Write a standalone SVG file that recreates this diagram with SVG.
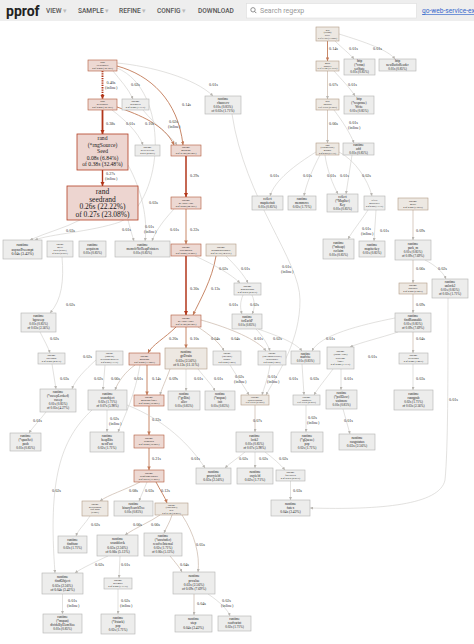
<svg xmlns="http://www.w3.org/2000/svg" width="474" height="644" viewBox="0 0 474 644">
<style>
.bg{fill:#ffffff}
.n rect{stroke-width:.6}
.g rect{fill:#ededec;stroke:#b2b2b1}
.b rect{fill:#ede8e2;stroke:#b29b86}
.p rect{fill:#edd9d3;stroke:#b2593a}
.h rect{fill:#edd5d0;stroke:#b23f23;stroke-width:.8}
.n text{font-family:"Liberation Serif",serif;fill:#1a1a1a;text-anchor:middle}
.e path{fill:none}
.e0{stroke:#cfcdca;stroke-width:.6;marker-end:url(#ag)}
.e1{stroke:#c8b6a8;stroke-width:.7;marker-end:url(#ag)}
.e2{stroke:#c27a58;stroke-width:.9;marker-end:url(#ab)}
.e3{stroke:#b2361a;marker-end:url(#ar)}
.l{font-family:"Liberation Serif",serif;font-size:4.2px;fill:#333}
.hd{font-family:Roboto,"Liberation Sans",sans-serif}
</style>
<defs>
<marker id="ag" viewBox="0 0 10 10" refX="10" refY="5" markerWidth="3" markerHeight="3" markerUnits="userSpaceOnUse" orient="auto"><path d="M0,0L10,5L0,10z" fill="#b8b5b0"/></marker>
<marker id="ab" viewBox="0 0 10 10" refX="10" refY="5" markerWidth="3.6" markerHeight="3.6" markerUnits="userSpaceOnUse" orient="auto"><path d="M0,0L10,5L0,10z" fill="#c27a58"/></marker>
<marker id="ar" viewBox="0 0 10 10" refX="10" refY="5" markerWidth="4.5" markerHeight="4.5" markerUnits="userSpaceOnUse" orient="auto"><path d="M0,0L10,5L0,10z" fill="#b2361a"/></marker>
</defs>
<rect class="bg" width="474" height="644"/>
<g id="header">
<rect x="0" y="0" width="474" height="21" fill="#eeeeee"/>
<text class="hd" x="6" y="15.5" font-size="14" font-weight="bold" fill="#222">pprof</text>
<g class="hd" font-size="6.6" fill="#555" font-weight="500">
<text x="46" y="13">VIEW <tspan fill="#bbb">▾</tspan></text>
<text x="78" y="13">SAMPLE <tspan fill="#bbb">▾</tspan></text>
<text x="119" y="13">REFINE <tspan fill="#bbb">▾</tspan></text>
<text x="157" y="13">CONFIG <tspan fill="#bbb">▾</tspan></text>
<text x="198" y="13">DOWNLOAD</text>
</g>
<rect x="246.5" y="3.5" width="170" height="14.5" fill="#ffffff" stroke="#dddddd" stroke-width=".6"/>
<circle cx="253" cy="9.8" r="2.2" fill="none" stroke="#777" stroke-width=".8"/>
<path d="M254.6,11.4L256.3,13.1" stroke="#777" stroke-width=".9"/>
<text class="hd" x="260" y="13" font-size="7" fill="#999">Search regexp</text>
<text class="hd" x="422" y="13" font-size="6.6" fill="#3366cc" text-decoration="underline">go-web-service-ex</text>
</g>
<g id="edges" class="e">
<path class="e3" d="M102.5,71L102.5,99" stroke-width="1.9" stroke-dasharray="1.3,1"/>
<path class="e3" d="M102.5,110L102.5,134" stroke-width="1.8"/>
<path class="e3" d="M102.5,170L102.5,186" stroke-width="1.4"/>
<path class="e0" d="M113,71C120,80 128,88 133,99"/>
<path class="e0" d="M117,63C150,66 195,78 213,96"/>
<path class="e2" d="M117,66C150,75 178,100 183,145"/>
<path class="e0" d="M143,110C155,125 170,135 177,145"/>
<path class="e0" d="M112,110C125,120 138,132 143,145"/>
<path class="e2" d="M117,107C140,115 165,125 174,145"/>
<path class="e3" d="M186,156L186,197" stroke-width="1.5"/>
<path class="e2" d="M186,209L186,244" stroke-width="1.2"/>
<path class="e0" d="M174,209C164,220 156,230 152,241"/>
<path class="e0" d="M128,220C130,228 132,235 134,241"/>
<path class="e0" d="M128,165C142,190 148,220 145,241"/>
<path class="e0" d="M117,68C170,90 165,200 120,222C90,232 50,234 35,240"/>
<path class="e0" d="M80,220C65,228 45,233 30,240"/>
<path class="e0" d="M62,257C64,280 62,300 50,313"/>
<path class="e0" d="M232,114C245,200 300,260 300,300C300,340 280,370 266,395"/>
<path class="e0" d="M316,152C295,165 275,180 270,196"/>
<path class="e0" d="M320,155C312,170 306,185 304,196"/>
<path class="e0" d="M325,155C327,170 333,185 338,194"/>
<path class="e0" d="M352,155L346,194"/>
<path class="e0" d="M339,152C355,160 368,180 372,196"/>
<path class="e0" d="M368,210C360,222 352,232 348,239"/>
<path class="e0" d="M376,210L374,241"/>
<path class="e1" d="M413,210L413,240"/>
<path class="e1" d="M413,260L413,283"/>
<path class="e0" d="M425,260C435,265 443,272 446,279"/>
<path class="e1" d="M413,294L413,313"/>
<path class="e1" d="M413,332L413,353"/>
<path class="e0" d="M413,364L413,390"/>
<path class="e0" d="M448,298C448,380 448,450 445,480C440,505 380,510 310,508"/>
<path class="e0" d="M398,332C380,338 362,342 350,347"/>
<path class="e0" d="M395,318C360,325 320,335 312,351"/>
<path class="e2" d="M327.5,41L327.5,61"/>
<path class="e0" d="M335,41C342,48 350,54 354,59"/>
<path class="e0" d="M339,34C365,42 388,50 395,59"/>
<path class="e1" d="M327.5,71L327.5,99"/>
<path class="e0" d="M334,71C342,80 350,88 355,96"/>
<path class="e1" d="M327.5,110L327.5,143"/>
<path class="e0" d="M334,110C343,122 350,133 354,143"/>
<path class="e2" d="M216,256C212,280 200,300 193,315"/>
<path class="e3" d="M186,256L186,315" stroke-width="1.5"/>
<path class="e0" d="M195,256C215,265 232,275 240,283"/>
<path class="e0" d="M226,256C236,266 244,275 248,283"/>
<path class="e0" d="M243,295C240,302 240,308 242,314"/>
<path class="e0" d="M252,295C255,302 255,308 252,314"/>
<path class="e2" d="M176,327C165,338 152,345 148,353" stroke-width="1.1"/>
<path class="e2" d="M186,327L186,348"/>
<path class="e1" d="M198,327C210,335 220,343 224,351"/>
<path class="e1" d="M201,320C230,328 258,340 266,351"/>
<path class="e0" d="M258,329C275,335 295,342 302,351"/>
<path class="e0" d="M256,329C262,335 268,345 270,351"/>
<path class="e0" d="M40,332C44,340 48,347 50,353"/>
<path class="e0" d="M96,360C85,370 75,380 72,389"/>
<path class="e0" d="M52,364L56,389"/>
<path class="e0" d="M105,365L103,390"/>
<path class="e1" d="M135,365C125,372 118,382 115,390"/>
<path class="e0" d="M140,365C135,395 125,415 118,432"/>
<path class="e2" d="M147,365L147,395"/>
<path class="e1" d="M170,369C166,380 162,388 160,395"/>
<path class="e0" d="M186,369L186,391"/>
<path class="e0" d="M198,369C205,378 212,385 215,391"/>
<path class="e0" d="M230,365C238,378 245,388 249,395"/>
<path class="e0" d="M270,365C268,378 264,388 262,395"/>
<path class="e0" d="M302,364L304,395"/>
<path class="e0" d="M333,369C325,380 318,388 314,395"/>
<path class="e0" d="M341,369L341,390"/>
<path class="e1" d="M255,405L255,432"/>
<path class="e0" d="M306,405L306,432"/>
<path class="e0" d="M343,409L350,434"/>
<path class="e0" d="M46,412C40,420 33,427 29,433"/>
<path class="e0" d="M107,410L107,432"/>
<path class="e2" d="M149,406L149,435" stroke-width="1.2"/>
<path class="e2" d="M149,448L149,470" stroke-width="1.2"/>
<path class="e0" d="M127,405C165,420 190,445 205,468"/>
<path class="e0" d="M245,452C238,458 230,463 225,468"/>
<path class="e0" d="M255,452L255,468"/>
<path class="e0" d="M265,452C273,458 280,464 285,470"/>
<path class="e0" d="M290.5,481L290.5,500"/>
<path class="e0" d="M92,410C60,440 48,480 55,573"/>
<path class="e1" d="M140,482C125,490 108,495 100,501"/>
<path class="e0" d="M147,482L139,501"/>
<path class="e2" d="M156,482C160,490 165,497 167,503"/>
<path class="e0" d="M90,516C85,524 78,530 76,536"/>
<path class="e1" d="M160,515C150,522 135,528 125,535"/>
<path class="e1" d="M172,515C170,522 166,528 164,533"/>
<path class="e1" d="M182,515C195,535 200,555 198,572"/>
<path class="e0" d="M108,556C95,562 82,568 75,573"/>
<path class="e0" d="M120,556L119,578"/>
<path class="e1" d="M170,556C175,562 180,568 182,572"/>
<path class="e0" d="M62.5,594L62.5,614"/>
<path class="e0" d="M118,589L118,614"/>
<path class="e1" d="M194,594L194,615"/>
<path class="e0" d="M208,594C220,602 228,610 230,616"/>
</g>
<g id="edge-labels">
<text class="l" x="106.5" y="84">0.40s</text><text class="l" x="105" y="88.5">(inline)</text>
<text class="l" x="106" y="125">0.38s</text>
<text class="l" x="106" y="175">0.27s</text><text class="l" x="105" y="179.5">(inline)</text>
<text class="l" x="131" y="86">0.02s</text>
<text class="l" x="209" y="86">0.01s</text>
<text class="l" x="182" y="106">0.14s</text>
<text class="l" x="169" y="123">0.02s</text><text class="l" x="168" y="127.5">(inline)</text>
<text class="l" x="126" y="125">0.01s</text>
<text class="l" x="145" y="125">0.10s</text>
<text class="l" x="190" y="177">0.29s</text>
<text class="l" x="190" y="231">0.22s</text>
<text class="l" x="170" y="231">0.01s</text>
<text class="l" x="122" y="231">0.01s</text>
<text class="l" x="145" y="228">0.01s</text><text class="l" x="144" y="232.5">(inline)</text>
<text class="l" x="149" y="204">0.03s</text>
<text class="l" x="66" y="232">0.03s</text>
<text class="l" x="66" y="306">0.02s</text>
<text class="l" x="282" y="268">0.01s</text><text class="l" x="281" y="272.5">(inline)</text>
<text class="l" x="270" y="177">0.01s</text>
<text class="l" x="303" y="177">0.01s</text>
<text class="l" x="327" y="177">0.01s</text>
<text class="l" x="340" y="177">0.01s</text>
<text class="l" x="362" y="177">0.02s</text>
<text class="l" x="362" y="230">0.01s</text><text class="l" x="361" y="234.5">(inline)</text>
<text class="l" x="380" y="232">0.01s</text>
<text class="l" x="416" y="232">0.09s</text>
<text class="l" x="416" y="270">0.06s</text>
<text class="l" x="438" y="270">0.02s</text>
<text class="l" x="416" y="306">0.09s</text>
<text class="l" x="416" y="340">0.04s</text>
<text class="l" x="416" y="380">0.03s</text>
<text class="l" x="449" y="401">0.01s</text>
<text class="l" x="368" y="358">0.01s</text>
<text class="l" x="326" y="340">0.01s</text>
<text class="l" x="329" y="50">0.14s</text>
<text class="l" x="349" y="50">0.01s</text>
<text class="l" x="373" y="50">0.01s</text>
<text class="l" x="329" y="86">0.07s</text>
<text class="l" x="348" y="86">0.01s</text>
<text class="l" x="329" y="125">0.06s</text>
<text class="l" x="349" y="124">0.01s</text><text class="l" x="348" y="128.5">(inline)</text>
<text class="l" x="211" y="290">0.13s</text>
<text class="l" x="190" y="290">0.30s</text>
<text class="l" x="219" y="270">0.02s</text>
<text class="l" x="241" y="270">0.01s</text>
<text class="l" x="229" y="306">0.01s</text>
<text class="l" x="250" y="306">0.02s</text>
<text class="l" x="169" y="340">0.20s</text>
<text class="l" x="190" y="340">0.10s</text>
<text class="l" x="211" y="340">0.04s</text>
<text class="l" x="231" y="340">0.04s</text>
<text class="l" x="254" y="340">0.01s</text>
<text class="l" x="273" y="340">0.02s</text>
<text class="l" x="50" y="340">0.02s</text>
<text class="l" x="83" y="358">0.02s</text>
<text class="l" x="60" y="380">0.03s</text>
<text class="l" x="94" y="380">0.02s</text>
<text class="l" x="111" y="380">0.06s</text>
<text class="l" x="134" y="380">0.01s</text>
<text class="l" x="152" y="380">0.14s</text>
<text class="l" x="169" y="380">0.09s</text>
<text class="l" x="194" y="380">0.01s</text>
<text class="l" x="214" y="380">0.01s</text>
<text class="l" x="235" y="378">0.02s</text><text class="l" x="234" y="382.5">(inline)</text>
<text class="l" x="268" y="378">0.01s</text><text class="l" x="267" y="382.5">(inline)</text>
<text class="l" x="289" y="380">0.01s</text>
<text class="l" x="310" y="380">0.03s</text>
<text class="l" x="344" y="380">0.01s</text>
<text class="l" x="253" y="422">0.07s</text>
<text class="l" x="308" y="419">0.02s</text><text class="l" x="307" y="423.5">(inline)</text>
<text class="l" x="344" y="422">0.01s</text>
<text class="l" x="33" y="422">0.01s</text>
<text class="l" x="110" y="420">0.02s</text><text class="l" x="109" y="424.5">(inline)</text>
<text class="l" x="152" y="421">0.22s</text>
<text class="l" x="152" y="460">0.21s</text>
<text class="l" x="191" y="460">0.01s</text>
<text class="l" x="239" y="460">0.02s</text>
<text class="l" x="259" y="460">0.02s</text>
<text class="l" x="279" y="460">0.02s</text>
<text class="l" x="293" y="492">0.03s</text>
<text class="l" x="52" y="492">0.02s</text>
<text class="l" x="129" y="492">0.08s</text>
<text class="l" x="145" y="492">0.03s</text>
<text class="l" x="161" y="492">0.12s</text>
<text class="l" x="91" y="526">0.02s</text>
<text class="l" x="133" y="526">0.06s</text>
<text class="l" x="151" y="526">0.06s</text>
<text class="l" x="196" y="546">0.05s</text>
<text class="l" x="95" y="566">0.02s</text>
<text class="l" x="121" y="566">0.01s</text>
<text class="l" x="180" y="566">0.04s</text>
<text class="l" x="68" y="602">0.01s</text><text class="l" x="67" y="606.5">(inline)</text>
<text class="l" x="121" y="602">0.02s</text><text class="l" x="120" y="606.5">(inline)</text>
<text class="l" x="197" y="605">0.04s</text>
<text class="l" x="222" y="602">0.02s</text><text class="l" x="221" y="606.5">(inline)</text>
</g>
<g id="n1" class="n p"><rect x="88" y="60" width="29" height="11"/><text x="102.5" y="63.2" font-size="2.6"><tspan x="102.5">rand</tspan><tspan x="102.5" dy="2.9">NewSource</tspan><tspan x="102.5" dy="2.9">0 of 0.40s (34.19%)</tspan></text></g>
<g id="n2" class="n p"><rect x="88" y="99" width="29" height="11"/><text x="102.5" y="102.2" font-size="2.6"><tspan x="102.5">rand</tspan><tspan x="102.5" dy="2.9">newSource</tspan><tspan x="102.5" dy="2.9">0 of 0.40s (34.19%)</tspan></text></g>
<g id="n3" class="n h"><rect x="77" y="134" width="51" height="36"/><text x="102.5" y="140.3" font-size="5.6"><tspan x="102.5">rand</tspan><tspan x="102.5" dy="6.5">(*rngSource)</tspan><tspan x="102.5" dy="6.5">Seed</tspan><tspan x="102.5" dy="6.5">0.08s (6.84%)</tspan><tspan x="102.5" dy="6.5">of 0.38s (32.48%)</tspan></text></g>
<g id="n4" class="n h"><rect x="67" y="186" width="71" height="34"/><text x="102.5" y="194.2" font-size="7.5"><tspan x="102.5">rand</tspan><tspan x="102.5" dy="7.5">seedrand</tspan><tspan x="102.5" dy="7.5">0.26s (22.22%)</tspan><tspan x="102.5" dy="7.5">of 0.27s (23.08%)</tspan></text></g>
<g id="n5" class="n g"><rect x="122" y="99" width="27" height="11"/><text x="135.5" y="102.2" font-size="2.6"><tspan x="135.5">runtime</tspan><tspan x="135.5" dy="2.9">newobject</tspan><tspan x="135.5" dy="2.9">0 of 0.02s (1.71%)</tspan></text></g>
<g id="n6" class="n g"><rect x="135" y="145" width="25" height="11"/><text x="147.5" y="148.2" font-size="2.6"><tspan x="147.5">runtime</tspan><tspan x="147.5" dy="2.9">nextFreeFast</tspan><tspan x="147.5" dy="2.9">0.01s (0.85%)</tspan></text></g>
<g id="n7" class="n p"><rect x="171" y="145" width="30" height="11"/><text x="186" y="148.2" font-size="2.6"><tspan x="186">runtime</tspan><tspan x="186" dy="2.9">mallocgc</tspan><tspan x="186" dy="2.9">0 of 0.30s (25.64%)</tspan></text></g>
<g id="n8" class="n g"><rect x="205" y="96" width="36" height="18"/><text x="223" y="100" font-size="3.4"><tspan x="223">runtime</tspan><tspan x="223" dy="3.9">chanrecv</tspan><tspan x="223" dy="3.9">0.01s (0.85%)</tspan><tspan x="223" dy="3.9">of 0.02s (1.71%)</tspan></text></g>
<g id="n7b" class="n p"><rect x="171" y="197" width="30" height="12"/><text x="186" y="200.7" font-size="2.6"><tspan x="186">runtime</tspan><tspan x="186" dy="2.9">gcAssistAlloc</tspan><tspan x="186" dy="2.9">0 of 0.29s (24.79%)</tspan></text></g>
<g id="n9" class="n b"><rect x="316" y="27" width="23" height="14"/><text x="327.5" y="30.5" font-size="2.4"><tspan x="327.5">http</tspan><tspan x="327.5" dy="2.8">(*conn)</tspan><tspan x="327.5" dy="2.8">serve</tspan><tspan x="327.5" dy="2.8">0 of 0.16s (13.68%)</tspan></text></g>
<g id="n10" class="n g"><rect x="344" y="59" width="31" height="16"/><text x="359.5" y="62.3" font-size="3.3"><tspan x="359.5">http</tspan><tspan x="359.5" dy="3.7">(*conn)</tspan><tspan x="359.5" dy="3.7">setState</tspan><tspan x="359.5" dy="3.7">0.01s (0.85%)</tspan></text></g>
<g id="n11" class="n g"><rect x="379" y="59" width="37" height="12"/><text x="397.5" y="62.2" font-size="3.3"><tspan x="397.5">http</tspan><tspan x="397.5" dy="3.7">newBufioReader</tspan><tspan x="397.5" dy="3.7">0.01s (0.85%)</tspan></text></g>
<g id="n12" class="n b"><rect x="316" y="61" width="23" height="10"/><text x="327.5" y="63.7" font-size="2.5"><tspan x="327.5">main</tspan><tspan x="327.5" dy="2.8">handler</tspan><tspan x="327.5" dy="2.8">0 of 0.14s (11.97%)</tspan></text></g>
<g id="n13" class="n g"><rect x="344" y="96" width="30" height="18"/><text x="359" y="99.9" font-size="3.3"><tspan x="359">http</tspan><tspan x="359" dy="3.9">(*response)</tspan><tspan x="359" dy="3.9">Write</tspan><tspan x="359" dy="3.9">0.01s (0.85%)</tspan></text></g>
<g id="n14" class="n b"><rect x="316" y="99" width="23" height="11"/><text x="327.5" y="102.2" font-size="2.5"><tspan x="327.5">json</tspan><tspan x="327.5" dy="2.9">Marshal</tspan><tspan x="327.5" dy="2.9">0 of 0.07s (5.98%)</tspan></text></g>
<g id="n16" class="n g"><rect x="343" y="143" width="31" height="12"/><text x="358.5" y="146.2" font-size="3.3"><tspan x="358.5">runtime</tspan><tspan x="358.5" dy="3.7">add</tspan><tspan x="358.5" dy="3.7">0.01s (0.85%)</tspan></text></g>
<g id="n17" class="n b"><rect x="316" y="143" width="23" height="12"/><text x="327.5" y="145.5" font-size="2.3"><tspan x="327.5">json</tspan><tspan x="327.5" dy="2.7">(*encodeState)</tspan><tspan x="327.5" dy="2.7">marshal</tspan><tspan x="327.5" dy="2.7">0 of 0.06s (5.13%)</tspan></text></g>
<g id="n18" class="n g"><rect x="252" y="196" width="31" height="14"/><text x="267.5" y="199.9" font-size="3.3"><tspan x="267.5">reflect</tspan><tspan x="267.5" dy="3.9">mapiterinit</tspan><tspan x="267.5" dy="3.9">0.01s (0.85%)</tspan></text></g>
<g id="n19" class="n g"><rect x="288" y="196" width="28" height="14"/><text x="302" y="199.9" font-size="3.3"><tspan x="302">runtime</tspan><tspan x="302" dy="3.9">memmove</tspan><tspan x="302" dy="3.9">0.02s (1.71%)</tspan></text></g>
<g id="n20" class="n g"><rect x="327" y="194" width="31" height="18"/><text x="342.5" y="197.9" font-size="3.3"><tspan x="342.5">reflect</tspan><tspan x="342.5" dy="3.9">(*MapIter)</tspan><tspan x="342.5" dy="3.9">Key</tspan><tspan x="342.5" dy="3.9">0.01s (0.85%)</tspan></text></g>
<g id="n21" class="n g"><rect x="364" y="196" width="21" height="14"/><text x="374.5" y="200.7" font-size="2.3"><tspan x="374.5">reflect</tspan><tspan x="374.5" dy="2.9">mapiterkey</tspan><tspan x="374.5" dy="2.9">0 of 0.02s (1.71%)</tspan></text></g>
<g id="n22" class="n b"><rect x="398" y="198" width="30" height="12"/><text x="413" y="201.7" font-size="2.6"><tspan x="413">runtime</tspan><tspan x="413" dy="2.9">mcall</tspan><tspan x="413" dy="2.9">0 of 0.09s (7.69%)</tspan></text></g>
<g id="n23" class="n g"><rect x="3" y="240" width="39" height="19"/><text x="22.5" y="246" font-size="3.9"><tspan x="22.5">runtime</tspan><tspan x="22.5" dy="4.5">asyncPreempt</tspan><tspan x="22.5" dy="4.5">0.04s (3.42%)</tspan></text></g>
<g id="n24" class="n g"><rect x="47" y="241" width="26" height="16"/><text x="60" y="245.1" font-size="2.3"><tspan x="60">runtime</tspan><tspan x="60" dy="2.9">goexit</tspan><tspan x="60" dy="2.9">0.01s (0.85%)</tspan><tspan x="60" dy="2.9">of 0.03s (2.56%)</tspan></text></g>
<g id="n25" class="n g"><rect x="79" y="241" width="27" height="16"/><text x="92.5" y="245.7" font-size="3.3"><tspan x="92.5">runtime</tspan><tspan x="92.5" dy="4">acquirem</tspan><tspan x="92.5" dy="4">0.01s (0.85%)</tspan></text></g>
<g id="n26" class="n g"><rect x="115" y="241" width="55" height="16"/><text x="142.5" y="245.7" font-size="3.3"><tspan x="142.5">runtime</tspan><tspan x="142.5" dy="4">memclrNoHeapPointers</tspan><tspan x="142.5" dy="4">0.01s (0.85%)</tspan></text></g>
<g id="n27" class="n p"><rect x="171" y="244" width="30" height="12"/><text x="186" y="247.7" font-size="2.6"><tspan x="186">runtime</tspan><tspan x="186" dy="2.9">systemstack</tspan><tspan x="186" dy="2.9">0 of 0.42s (35.90%)</tspan></text></g>
<g id="n28" class="n b"><rect x="206" y="244" width="30" height="12"/><text x="221" y="247.7" font-size="2.6"><tspan x="221">runtime</tspan><tspan x="221" dy="2.9">gcBgMarkWorker</tspan><tspan x="221" dy="2.9">0 of 0.17s (14.53%)</tspan></text></g>
<g id="n29" class="n g"><rect x="323" y="239" width="31" height="20"/><text x="338.5" y="243.7" font-size="3.3"><tspan x="338.5">runtime</tspan><tspan x="338.5" dy="4">(*mheap)</tspan><tspan x="338.5" dy="4">reclaim</tspan><tspan x="338.5" dy="4">0.01s (0.85%)</tspan></text></g>
<g id="n30" class="n g"><rect x="359" y="241" width="26" height="16"/><text x="372" y="245.7" font-size="3.3"><tspan x="372">runtime</tspan><tspan x="372" dy="4">mapiterkey</tspan><tspan x="372" dy="4">0.01s (0.85%)</tspan></text></g>
<g id="n31" class="n g"><rect x="395" y="240" width="36" height="20"/><text x="413" y="244.7" font-size="3.3"><tspan x="413">runtime</tspan><tspan x="413" dy="4">park_m</tspan><tspan x="413" dy="4">0.01s (0.85%)</tspan><tspan x="413" dy="4">of 0.09s (7.69%)</tspan></text></g>
<g id="n32" class="n b"><rect x="399" y="283" width="28" height="11"/><text x="413" y="286.2" font-size="2.6"><tspan x="413">runtime</tspan><tspan x="413" dy="2.9">schedule</tspan><tspan x="413" dy="2.9">0 of 0.08s (6.84%)</tspan></text></g>
<g id="n33" class="n g"><rect x="432" y="279" width="36" height="19"/><text x="450" y="283.4" font-size="3.3"><tspan x="450">runtime</tspan><tspan x="450" dy="3.9">unlock2</tspan><tspan x="450" dy="3.9">0.01s (0.85%)</tspan><tspan x="450" dy="3.9">of 0.02s (1.71%)</tspan></text></g>
<g id="n34" class="n g"><rect x="234" y="283" width="27" height="12"/><text x="247.5" y="286.7" font-size="2.6"><tspan x="247.5">runtime</tspan><tspan x="247.5" dy="2.9">gcMarkDone</tspan><tspan x="247.5" dy="2.9">0 of 0.03s (2.56%)</tspan></text></g>
<g id="n35" class="n g"><rect x="232" y="314" width="30" height="15"/><text x="247" y="318.3" font-size="3.1"><tspan x="247">runtime</tspan><tspan x="247" dy="3.8">forEachP</tspan><tspan x="247" dy="3.8">0.01s (0.85%)</tspan></text></g>
<g id="n36" class="n p"><rect x="171" y="315" width="30" height="12"/><text x="186" y="318.7" font-size="2.6"><tspan x="186">runtime</tspan><tspan x="186" dy="2.9">gcAssistAlloc1</tspan><tspan x="186" dy="2.9">0 of 0.30s (25.64%)</tspan></text></g>
<g id="n37" class="n g"><rect x="395" y="313" width="36" height="19"/><text x="413" y="317.4" font-size="3.3"><tspan x="413">runtime</tspan><tspan x="413" dy="3.9">findRunnable</tspan><tspan x="413" dy="3.9">0.01s (0.85%)</tspan><tspan x="413" dy="3.9">of 0.09s (7.69%)</tspan></text></g>
<g id="n38" class="n g"><rect x="21" y="313" width="35" height="19"/><text x="38.5" y="317.4" font-size="3.3"><tspan x="38.5">runtime</tspan><tspan x="38.5" dy="3.9">bgsweep</tspan><tspan x="38.5" dy="3.9">0.01s (0.85%)</tspan><tspan x="38.5" dy="3.9">of 0.03s (2.56%)</tspan></text></g>
<g id="n39" class="n g"><rect x="38" y="353" width="27" height="11"/><text x="51.5" y="356.2" font-size="2.6"><tspan x="51.5">runtime</tspan><tspan x="51.5" dy="2.9">sweepone</tspan><tspan x="51.5" dy="2.9">0 of 0.05s (4.27%)</tspan></text></g>
<g id="n40" class="n g"><rect x="96" y="351" width="27" height="14"/><text x="109.5" y="354.1" font-size="2.3"><tspan x="109.5">runtime</tspan><tspan x="109.5" dy="2.9">(*mheap)</tspan><tspan x="109.5" dy="2.9">nextSpanForSweep</tspan><tspan x="109.5" dy="2.9">0 of 0.02s (1.71%)</tspan></text></g>
<g id="n41" class="n p"><rect x="129" y="353" width="31" height="12"/><text x="144.5" y="356.7" font-size="2.6"><tspan x="144.5">runtime</tspan><tspan x="144.5" dy="2.9">markroot</tspan><tspan x="144.5" dy="2.9">0 of 0.20s (17.09%)</tspan></text></g>
<g id="n42" class="n g"><rect x="40" y="389" width="36" height="23"/><text x="58" y="393.4" font-size="3.3"><tspan x="58">runtime</tspan><tspan x="58" dy="3.9">(*sweepLocked)</tspan><tspan x="58" dy="3.9">sweep</tspan><tspan x="58" dy="3.9">0.01s (0.85%)</tspan><tspan x="58" dy="3.9">of 0.05s (4.27%)</tspan></text></g>
<g id="n43" class="n g"><rect x="88" y="390" width="39" height="20"/><text x="107.5" y="394.7" font-size="3.3"><tspan x="107.5">runtime</tspan><tspan x="107.5" dy="4">scanobject</tspan><tspan x="107.5" dy="4">0.02s (1.71%)</tspan><tspan x="107.5" dy="4">of 0.07s (5.98%)</tspan></text></g>
<g id="n44" class="n p"><rect x="134" y="395" width="30" height="11"/><text x="149" y="398.2" font-size="2.6"><tspan x="149">runtime</tspan><tspan x="149" dy="2.9">markroot.func1</tspan><tspan x="149" dy="2.9">0 of 0.22s (18.80%)</tspan></text></g>
<g id="n45" class="n g"><rect x="10" y="433" width="31" height="18"/><text x="25.5" y="436.9" font-size="3.3"><tspan x="25.5">runtime</tspan><tspan x="25.5" dy="3.9">(*spanSet)</tspan><tspan x="25.5" dy="3.9">push</tspan><tspan x="25.5" dy="3.9">0.01s (0.85%)</tspan></text></g>
<g id="n46" class="n g"><rect x="90" y="432" width="34" height="20"/><text x="107" y="436.7" font-size="3.3"><tspan x="107">runtime</tspan><tspan x="107" dy="4">heapBits</tspan><tspan x="107" dy="4">nextFast</tspan><tspan x="107" dy="4">0.02s (1.71%)</tspan></text></g>
<g id="n47" class="n p"><rect x="134" y="435" width="30" height="13"/><text x="149" y="439.2" font-size="2.6"><tspan x="149">runtime</tspan><tspan x="149" dy="2.9">scanstack</tspan><tspan x="149" dy="2.9">0 of 0.22s (18.80%)</tspan></text></g>
<g id="n48" class="n p"><rect x="134" y="470" width="30" height="12"/><text x="149" y="473.7" font-size="2.6"><tspan x="149">runtime</tspan><tspan x="149" dy="2.9">scanframeworker</tspan><tspan x="149" dy="2.9">0 of 0.21s (17.95%)</tspan></text></g>
<g id="n49" class="n b"><rect x="165" y="348" width="42" height="21"/><text x="186" y="352.9" font-size="3.6"><tspan x="186">runtime</tspan><tspan x="186" dy="4.3">gcDrain</tspan><tspan x="186" dy="4.3">0.03s (2.56%)</tspan><tspan x="186" dy="4.3">of 0.13s (11.11%)</tspan></text></g>
<g id="n55" class="n g"><rect x="213" y="351" width="28" height="14"/><text x="227" y="354.1" font-size="2.3"><tspan x="227">runtime</tspan><tspan x="227" dy="2.9">(*gcWork)</tspan><tspan x="227" dy="2.9">balance</tspan><tspan x="227" dy="2.9">0 of 0.04s (3.42%)</tspan></text></g>
<g id="n56" class="n g"><rect x="258" y="351" width="28" height="14"/><text x="272" y="354.1" font-size="2.3"><tspan x="272">runtime</tspan><tspan x="272" dy="2.9">(*gcControllerState)</tspan><tspan x="272" dy="2.9">enlistWorker</tspan><tspan x="272" dy="2.9">0 of 0.04s (3.42%)</tspan></text></g>
<g id="n57" class="n g"><rect x="291" y="351" width="29" height="13"/><text x="305.5" y="354.5" font-size="3.1"><tspan x="305.5">runtime</tspan><tspan x="305.5" dy="3.7">madvise</tspan><tspan x="305.5" dy="3.7">0.01s (0.85%)</tspan></text></g>
<g id="n58" class="n g"><rect x="327" y="347" width="27" height="22"/><text x="340.5" y="351.9" font-size="2.6"><tspan x="340.5">runtime</tspan><tspan x="340.5" dy="3.3">(*pageAlloc)</tspan><tspan x="340.5" dy="3.3">scavenge</tspan><tspan x="340.5" dy="3.3">func1</tspan><tspan x="340.5" dy="3.3">0 of 0.02s (1.71%)</tspan></text></g>
<g id="n59" class="n g"><rect x="399" y="353" width="29" height="11"/><text x="413.5" y="356.2" font-size="2.6"><tspan x="413.5">runtime</tspan><tspan x="413.5" dy="2.9">stealWork</tspan><tspan x="413.5" dy="2.9">0 of 0.04s (3.42%)</tspan></text></g>
<g id="n60" class="n g"><rect x="168" y="391" width="32" height="19"/><text x="184" y="395.3" font-size="3.2"><tspan x="184">runtime</tspan><tspan x="184" dy="3.9">(*gcBits)</tspan><tspan x="184" dy="3.9">alloc</tspan><tspan x="184" dy="3.9">0.01s (0.85%)</tspan></text></g>
<g id="n61" class="n g"><rect x="205" y="391" width="30" height="19"/><text x="220" y="395.3" font-size="3.2"><tspan x="220">runtime</tspan><tspan x="220" dy="3.9">(*mspan)</tspan><tspan x="220" dy="3.9">init</tspan><tspan x="220" dy="3.9">0.01s (0.85%)</tspan></text></g>
<g id="n62" class="n b"><rect x="241" y="395" width="28" height="10"/><text x="255" y="397.7" font-size="2.5"><tspan x="255">runtime</tspan><tspan x="255" dy="2.8">lockWithRank</tspan><tspan x="255" dy="2.8">0 of 0.07s (5.98%)</tspan></text></g>
<g id="n63" class="n g"><rect x="293" y="395" width="27" height="10"/><text x="306.5" y="397.7" font-size="2.5"><tspan x="306.5">runtime</tspan><tspan x="306.5" dy="2.8">runqsteal</tspan><tspan x="306.5" dy="2.8">0 of 0.03s (2.56%)</tspan></text></g>
<g id="n64" class="n g"><rect x="326" y="390" width="31" height="19"/><text x="341.5" y="394.3" font-size="3.2"><tspan x="341.5">runtime</tspan><tspan x="341.5" dy="3.9">(*pollDesc)</tspan><tspan x="341.5" dy="3.9">waitmore</tspan><tspan x="341.5" dy="3.9">0.01s (0.85%)</tspan></text></g>
<g id="n65" class="n g"><rect x="394" y="390" width="39" height="20"/><text x="413.5" y="394.7" font-size="3.3"><tspan x="413.5">runtime</tspan><tspan x="413.5" dy="4">runqgrab</tspan><tspan x="413.5" dy="4">0.02s (1.71%)</tspan><tspan x="413.5" dy="4">of 0.03s (2.56%)</tspan></text></g>
<g id="n66" class="n g"><rect x="236" y="432" width="37" height="20"/><text x="254.5" y="436.7" font-size="3.3"><tspan x="254.5">runtime</tspan><tspan x="254.5" dy="4">lock2</tspan><tspan x="254.5" dy="4">0.01s (0.85%)</tspan><tspan x="254.5" dy="4">of 0.07s (5.98%)</tspan></text></g>
<g id="n67" class="n g"><rect x="291" y="432" width="32" height="20"/><text x="307" y="436.7" font-size="3.3"><tspan x="307">runtime</tspan><tspan x="307" dy="4">(*gQueue)</tspan><tspan x="307" dy="4">pop</tspan><tspan x="307" dy="4">0.02s (1.71%)</tspan></text></g>
<g id="n68" class="n g"><rect x="339" y="434" width="36" height="16"/><text x="357" y="438.7" font-size="3.6"><tspan x="357">runtime</tspan><tspan x="357" dy="4.2">casgstatus</tspan><tspan x="357" dy="4.2">0.03s (2.56%)</tspan></text></g>
<g id="n69" class="n g"><rect x="196" y="468" width="35" height="16"/><text x="213.5" y="472.7" font-size="3.6"><tspan x="213.5">runtime</tspan><tspan x="213.5" dy="4.2">procyield</tspan><tspan x="213.5" dy="4.2">0.03s (2.56%)</tspan></text></g>
<g id="n70" class="n g"><rect x="237" y="468" width="36" height="16"/><text x="255" y="472.7" font-size="3.6"><tspan x="255">runtime</tspan><tspan x="255" dy="4.2">osyield</tspan><tspan x="255" dy="4.2">0.02s (1.71%)</tspan></text></g>
<g id="n71" class="n g"><rect x="276" y="470" width="29" height="11"/><text x="290.5" y="473.2" font-size="2.6"><tspan x="290.5">runtime</tspan><tspan x="290.5" dy="2.9">futexsleep</tspan><tspan x="290.5" dy="2.9">0 of 0.03s (2.56%)</tspan></text></g>
<g id="n50" class="n b"><rect x="82" y="501" width="26" height="15"/><text x="95" y="504.6" font-size="2.3"><tspan x="95">runtime</tspan><tspan x="95" dy="2.9">getStackMap</tspan><tspan x="95" dy="2.9">0 of 0.08s</tspan><tspan x="95" dy="2.9">(6.84%)</tspan></text></g>
<g id="n51" class="n g"><rect x="114" y="501" width="39" height="15"/><text x="133.5" y="505.4" font-size="3.2"><tspan x="133.5">runtime</tspan><tspan x="133.5" dy="3.8">binarySearchTree</tspan><tspan x="133.5" dy="3.8">0.01s (0.85%)</tspan></text></g>
<g id="n52" class="n b"><rect x="155" y="503" width="33" height="12"/><text x="171.5" y="505.7" font-size="2.3"><tspan x="171.5">runtime</tspan><tspan x="171.5" dy="2.7">(*unwinder)</tspan><tspan x="171.5" dy="2.7">next</tspan><tspan x="171.5" dy="2.7">0 of 0.12s (10.26%)</tspan></text></g>
<g id="n53" class="n g"><rect x="271" y="500" width="39" height="16"/><text x="290.5" y="504.7" font-size="3.6"><tspan x="290.5">runtime</tspan><tspan x="290.5" dy="4.2">futex</tspan><tspan x="290.5" dy="4.2">0.04s (3.42%)</tspan></text></g>
<g id="n54" class="n g"><rect x="97" y="535" width="41" height="21"/><text x="117.5" y="539.9" font-size="3.6"><tspan x="117.5">runtime</tspan><tspan x="117.5" dy="4.3">scanblock</tspan><tspan x="117.5" dy="4.3">0.03s (2.56%)</tspan><tspan x="117.5" dy="4.3">of 0.06s (5.13%)</tspan></text></g>
<g id="n72" class="n g"><rect x="144" y="533" width="38" height="23"/><text x="163" y="537" font-size="3.3"><tspan x="163">runtime</tspan><tspan x="163" dy="4.1">(*unwinder)</tspan><tspan x="163" dy="4.1">resolveInternal</tspan><tspan x="163" dy="4.1">0.02s (1.71%)</tspan><tspan x="163" dy="4.1">of 0.06s (5.13%)</tspan></text></g>
<g id="n73" class="n g"><rect x="58" y="536" width="29" height="17"/><text x="72.5" y="541.2" font-size="3.3"><tspan x="72.5">runtime</tspan><tspan x="72.5" dy="4">findfunc</tspan><tspan x="72.5" dy="4">0.02s (1.71%)</tspan></text></g>
<g id="n74" class="n g"><rect x="42" y="573" width="41" height="21"/><text x="62.5" y="577.9" font-size="3.6"><tspan x="62.5">runtime</tspan><tspan x="62.5" dy="4.3">findObject</tspan><tspan x="62.5" dy="4.3">0.03s (2.56%)</tspan><tspan x="62.5" dy="4.3">of 0.04s (3.42%)</tspan></text></g>
<g id="n75" class="n g"><rect x="104" y="578" width="28" height="11"/><text x="118" y="581.2" font-size="2.6"><tspan x="118">runtime</tspan><tspan x="118" dy="2.9">getempty</tspan><tspan x="118" dy="2.9">0 of 0.02s (1.71%)</tspan></text></g>
<g id="n76" class="n g"><rect x="173" y="572" width="42" height="22"/><text x="194" y="577.2" font-size="3.6"><tspan x="194">runtime</tspan><tspan x="194" dy="4.4">pcvalue</tspan><tspan x="194" dy="4.4">0.03s (2.56%)</tspan><tspan x="194" dy="4.4">of 0.09s (7.69%)</tspan></text></g>
<g id="n77" class="n g"><rect x="43" y="614" width="39" height="19"/><text x="62.5" y="618.2" font-size="3.3"><tspan x="62.5">runtime</tspan><tspan x="62.5" dy="4">(*mspan)</tspan><tspan x="62.5" dy="4">divideByElemSize</tspan><tspan x="62.5" dy="4">0.01s (0.85%)</tspan></text></g>
<g id="n78" class="n g"><rect x="101" y="614" width="34" height="20"/><text x="118" y="618.7" font-size="3.3"><tspan x="118">runtime</tspan><tspan x="118" dy="4">(*lfstack)</tspan><tspan x="118" dy="4">pop</tspan><tspan x="118" dy="4">0.02s (1.71%)</tspan></text></g>
<g id="n79" class="n g"><rect x="175" y="615" width="37" height="17"/><text x="193.5" y="620.2" font-size="3.6"><tspan x="193.5">runtime</tspan><tspan x="193.5" dy="4.2">step</tspan><tspan x="193.5" dy="4.2">0.04s (3.42%)</tspan></text></g>
<g id="n80" class="n g"><rect x="218" y="616" width="33" height="15"/><text x="234.5" y="620.4" font-size="3.3"><tspan x="234.5">runtime</tspan><tspan x="234.5" dy="3.9">readvarint</tspan><tspan x="234.5" dy="3.9">0.02s (1.71%)</tspan></text></g>
</svg>
